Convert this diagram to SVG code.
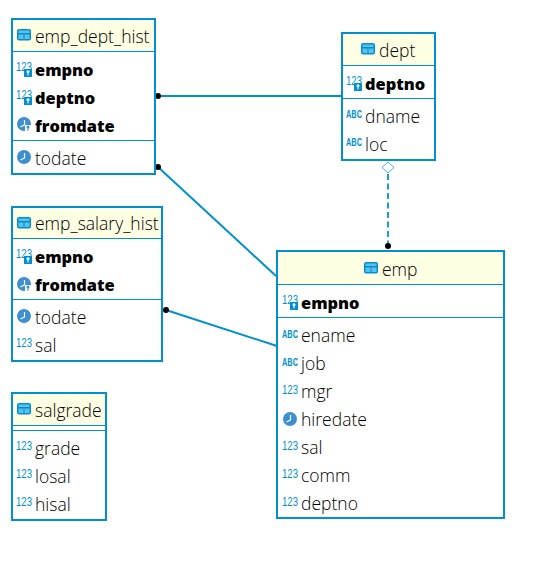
<svg xmlns="http://www.w3.org/2000/svg" width="536" height="567" viewBox="0 0 536 567">
<style>
.box{fill:#fff;stroke:#0090d0;stroke-width:2}
.head{fill:#ffffe3}
.sep{stroke:#0090d0;stroke-width:1;fill:none}
.t{font-family:"Open Sans","Liberation Sans",sans-serif;font-size:17.500px;font-weight:300;fill:#000}
.b{font-family:"Open Sans","Liberation Sans",sans-serif;font-size:16.400px;font-weight:800;fill:#000}
.i{font-family:"Liberation Sans",sans-serif;font-size:12px;fill:#0090d0}
.a{font-family:"Liberation Sans",sans-serif;font-size:10px;font-weight:700;fill:#0090d0}
.c{fill:none;stroke:#0090d0;stroke-width:2}
</style>
<defs>
<g id="tbl"><rect x="0" y="0" width="14" height="11.500" rx="2" fill="#0090d0"/><rect x="1.500" y="1.500" width="11" height="2.500" fill="#5cc0ea"/><rect x="1.500" y="5.500" width="5" height="4.500" fill="#5cc0ea"/><rect x="7.500" y="5.500" width="5" height="4.500" fill="#5cc0ea"/></g>
<g id="key"><text class="i" x="0" y="9" textLength="16" lengthAdjust="spacingAndGlyphs">123</text><rect x="8" y="7" width="8" height="8" fill="#0090d0"/><circle cx="12" cy="9.800" r="1.500" fill="#fff"/><rect x="11.500" y="10.500" width="1" height="3" fill="#fff"/></g>
<g id="num"><text class="i" x="0" y="9" textLength="16" lengthAdjust="spacingAndGlyphs">123</text></g>
<g id="abc"><text class="a" x="0" y="7.500" textLength="16" lengthAdjust="spacingAndGlyphs">ABC</text></g>
<g id="clk"><circle cx="7" cy="7" r="7" fill="#3c90d0"/><path d="M7.500 3V8L3.500 10" fill="none" stroke="#fff" stroke-width="1.200"/></g>
<g id="clkkey"><use href="#clk"/><rect x="8" y="8" width="6" height="7" fill="#fff"/><circle cx="11" cy="10" r="1.500" fill="#3c90d0"/><rect x="10.500" y="11" width="1" height="3" fill="#3c90d0"/></g>
</defs>
<g id="connectors">
<path class="c" d="M158 96H342"/>
<path class="c" d="M158 167L276 276"/>
<path class="c" d="M166 310L277 346"/>
<path class="c" d="M388 174V246" stroke-dasharray="6 3.500" stroke="#1b9fdc" style="stroke:#1b9fdc"/>
<path d="M388 162L394 167.500L388 173L382 167.500Z" fill="#fff" stroke="#4aaede" stroke-width="1"/>
<circle cx="158" cy="96" r="3" fill="#000"/>
<circle cx="158" cy="167" r="3" fill="#000"/>
<circle cx="166" cy="310" r="3" fill="#000"/>
<circle cx="388" cy="246" r="3" fill="#000"/>
</g>
<g id="emp_dept_hist">
<rect class="box" x="12" y="19" width="143" height="155"/>
<rect class="head" x="13" y="20" width="141" height="31"/>
<path class="sep" d="M13 51.500H154M13 140.500H154"/>
<use href="#tbl" x="17" y="29"/>
<text class="t" x="35" y="43">emp_dept_hist</text>
<use href="#key" x="16" y="62"/><text class="b" x="35" y="76">empno</text>
<use href="#key" x="16" y="90"/><text class="b" x="35" y="104">deptno</text>
<use href="#clkkey" x="17" y="117"/><text class="b" x="35" y="132">fromdate</text>
<use href="#clk" x="17" y="150"/><text class="t" x="35" y="165">todate</text>
</g>
<g id="dept">
<rect class="box" x="342" y="33" width="93" height="127"/>
<rect class="head" x="343" y="34" width="91" height="31"/>
<path class="sep" d="M343 65.500H434M343 98.500H434"/>
<use href="#tbl" x="361" y="43"/>
<text class="t" x="379" y="57">dept</text>
<use href="#key" x="346" y="76"/><text class="b" x="365" y="90">deptno</text>
<use href="#abc" x="346" y="110"/><text class="t" x="365" y="123">dname</text>
<use href="#abc" x="346" y="138"/><text class="t" x="365" y="151">loc</text>
</g>
<g id="emp_salary_hist">
<rect class="box" x="12" y="207" width="150" height="154"/>
<rect class="head" x="13" y="208" width="148" height="30"/>
<path class="sep" d="M13 238.500H161M13 299.500H161"/>
<use href="#tbl" x="17" y="217"/>
<text class="t" x="35" y="230">emp_salary_hist</text>
<use href="#key" x="16" y="249"/><text class="b" x="35" y="263">empno</text>
<use href="#clkkey" x="17" y="277"/><text class="b" x="35" y="291">fromdate</text>
<use href="#clk" x="17" y="309"/><text class="t" x="35" y="324">todate</text>
<use href="#num" x="16" y="338"/><text class="t" x="35" y="352">sal</text>
</g>
<g id="salgrade">
<rect class="box" x="12" y="393" width="94" height="127"/>
<rect class="head" x="13" y="394" width="92" height="31"/>
<path class="sep" d="M13 425.500H105M13 430.500H105"/>
<use href="#tbl" x="17" y="403"/>
<text class="t" x="35" y="417">salgrade</text>
<use href="#num" x="16" y="441"/><text class="t" x="35" y="455">grade</text>
<use href="#num" x="16" y="469"/><text class="t" x="35" y="483">losal</text>
<use href="#num" x="16" y="497"/><text class="t" x="35" y="511">hisal</text>
</g>
<g id="emp">
<rect class="box" x="277" y="251" width="227" height="267"/>
<rect class="head" x="278" y="252" width="225" height="32"/>
<path class="sep" d="M278 284.500H503M278 317.500H503"/>
<use href="#tbl" x="364" y="262"/>
<text class="t" x="382" y="276">emp</text>
<use href="#key" x="282" y="295"/><text class="b" x="301" y="309">empno</text>
<use href="#abc" x="282" y="330"/><text class="t" x="301" y="342">ename</text>
<use href="#abc" x="282" y="358"/><text class="t" x="301" y="370">job</text>
<use href="#num" x="282" y="385"/><text class="t" x="301" y="398">mgr</text>
<use href="#clk" x="283" y="412"/><text class="t" x="301" y="426">hiredate</text>
<use href="#num" x="282" y="441"/><text class="t" x="301" y="454">sal</text>
<use href="#num" x="282" y="469"/><text class="t" x="301" y="482">comm</text>
<use href="#num" x="282" y="497"/><text class="t" x="301" y="510">deptno</text>
</g>
</svg>
